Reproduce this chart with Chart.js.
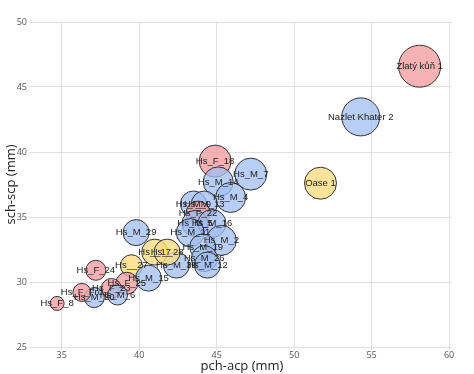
<!DOCTYPE html>
<html>
    <head>
        <meta charset = "UTF-8">
        <title>pch-acp vs sch-scp</title>
        <script src = "https://cdn.jsdelivr.net/npm/chart.js@4.4.1/dist/chart.umd.min.js"></script>
        <style>
            html, body { margin: 0; padding: 0; background: #fff; }
            #wrap { width: 474px; height: 374px; }
        </style>
    </head>
    <body>
        <div id = "wrap"><canvas id = "chart"></canvas></div>
        <script>
            // specimen names
            const names = ["Zlatý kůň 1","Nazlet Khater 2","Oase 1","Hs_F_18","Hs_M_7","Hs_M_14","Hs_M_4",
                "Hs_M_9","Hs_M_13","Hs_F_22","Hs_M_5","Hs_M_16","Hs_M_11","Hs_M_2","Hs_M_19","Hs_M_26",
                "Hs_M_12","Hs_M_30","Hs_M_29","Hs__17","Hs__28","Hs__27","Hs_M_15","Hs_F_25","Hs_F_24",
                "Hs_F_23","Hs_M_6","Hs_M_20","Hs_F_Fro","Hs_F_8"];
            // F = female, M = male, U = unknown
            const sex = ["F","M","U","F","M","M","M",
                "M","M","F","M","M","M","M","M","M",
                "M","M","M","U","U","U","M","F","F",
                "F","M","M","F","F"];
            const pchAcp = [58.1,54.3,51.7,44.9,47.2,45.1,45.9,
                43.5,44.2,43.8,43.6,44.7,43.3,45.3,44.1,44.2,
                44.4,42.4,39.8,41.0,41.8,39.5,40.6,39.2,37.2,
                38.2,38.6,37.1,36.3,34.7];
            const schScp = [46.6,42.7,37.6,39.3,38.3,37.7,36.5,
                36.0,36.0,35.3,34.5,34.5,33.8,33.2,32.7,31.8,
                31.3,31.3,33.8,32.3,32.3,31.25,30.3,29.9,30.9,
                29.5,29.0,28.8,29.2,28.35];
            // third measure, shown as bubble size
            const sizeVal = [21,19,16,16,16,15,15,
                13,13,12,13,14,14,15,13,13,
                13,13,13,13,13,11,13,11,10,
                10,10,10,9,7];
            const xTicks = [35,40,45,50,55,60];
            const yTicks = [25,30,35,40,45,50];

            const fills = {F:"rgba(243,158,160,0.8)", M:"rgba(160,190,240,0.75)", U:"rgba(250,220,130,0.8)"};

            const points = pchAcp.map((x,i)=>({x:x, y:schScp[i], r:sizeVal[i], name:names[i]}));

            //draws the names in the middle of each bubble
            const nameLabels = {
                id:"nameLabels",
                afterDatasetsDraw(chart)
                {
                    const ctx = chart.ctx;
                    const meta = chart.getDatasetMeta(0);
                    ctx.save();
                    ctx.font = "9.5px 'Liberation Sans', Arial, sans-serif";
                    ctx.fillStyle = "#222";
                    ctx.textAlign = "center";
                    ctx.textBaseline = "middle";
                    meta.data.forEach((el,i)=>{
                        ctx.fillText(names[i], el.x, el.y);
                    });
                    ctx.restore();
                }
            };

            const fixTicks = list => scale => { scale.ticks = list.map(v=>({value:v})); };

            new Chart(document.getElementById("chart"), {
                type:"bubble",
                data:{
                    datasets:[{
                        data:points,
                        backgroundColor:sex.map(s=>fills[s]),
                        borderColor:"#333",
                        borderWidth:1
                    }]
                },
                options:{
                    responsive:true,
                    maintainAspectRatio:false,
                    animation:false,
                    layout:{padding:{top:19, right:19, left:0, bottom:0}},
                    plugins:{legend:{display:false}, tooltip:{enabled:false}},
                    scales:{
                        x:{
                            type:"linear",
                            min:33.08, max:60.19,
                            afterBuildTicks:fixTicks(xTicks),
                            afterFit:s=>{ s.height = 27; },
                            border:{display:false},
                            grid:{color:"#e0e0e0", tickLength:3},
                            ticks:{color:"#555", padding:0, font:{size:9, family:"'Open Sans', sans-serif"}},
                            title:{display:true, text:"pch-acp (mm)", color:"#222", padding:{top:-3, bottom:0},
                                font:{size:13, family:"'Open Sans', sans-serif"}}
                        },
                        y:{
                            type:"linear",
                            min:25, max:50,
                            afterBuildTicks:fixTicks(yTicks),
                            afterFit:s=>{ s.width = 32; },
                            border:{display:false},
                            grid:{color:"#e0e0e0", tickLength:3},
                            ticks:{color:"#555", padding:2, font:{size:9, family:"'Open Sans', sans-serif"}},
                            title:{display:true, text:"sch-scp (mm)", color:"#222", padding:{top:3, bottom:0},
                                font:{size:13, family:"'Open Sans', sans-serif"}}
                        }
                    }
                },
                plugins:[nameLabels]
            });
        </script>
    </body>
</html>
